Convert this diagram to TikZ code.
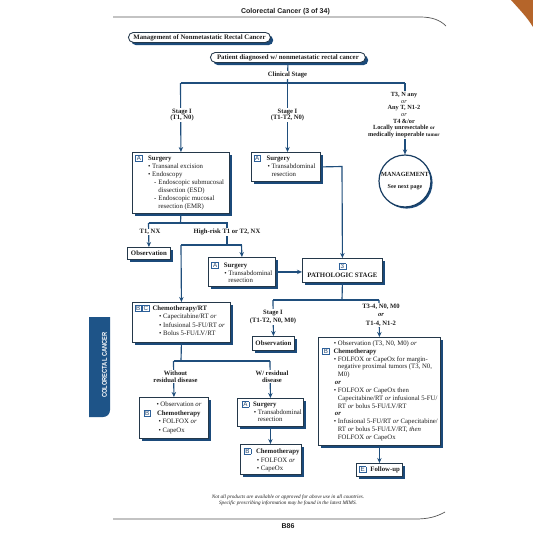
\documentclass[tikz,border=0pt]{standalone}
\usepackage{fontspec}
\setmainfont{Liberation Serif}
\newfontfamily\hsans{Liberation Sans}
\newfontfamily\tabsans[FakeStretch=0.82]{Liberation Sans}
\usetikzlibrary{arrows.meta,shadows}
\definecolor{bord}{HTML}{24384A}
\definecolor{shb}{HTML}{1B4A7A}
\definecolor{lnb}{HTML}{1F4E7C}
\definecolor{icb}{HTML}{2D6099}
\definecolor{txt}{HTML}{1E1E1E}
\definecolor{tabb}{HTML}{1E5488}
\definecolor{curl}{HTML}{555555}
\definecolor{brn}{HTML}{B5652A}
\newcommand\bodyf{\fontsize{6.8}{8}\selectfont}
\newcommand\labf{\fontsize{6.6}{6.9}\selectfont\bfseries}
\newcommand\ic[1]{{\setlength\fboxsep{0.5pt}\setlength\fboxrule{0.65pt}\fcolorbox{icb}{white}{\makebox[5.2pt]{\hsans\fontsize{6.2}{6.5}\selectfont\textcolor{icb!70!black}{#1}}}}}
\newcommand\bu{\makebox[4pt][l]{\textbullet}}
\newcommand\da{\makebox[4.2pt][l]{-}}
\begin{document}
\begin{tikzpicture}[x=1pt,y=-1pt,
  every node/.style={text=txt},
  bx/.style={draw=bord, line width=0.85pt, fill=white, inner sep=0pt, anchor=north west,
    general shadow={fill=shb, shadow xshift=2.8pt, shadow yshift=-2.8pt}},
  rbx/.style={bx, rounded corners=5pt},
  txtn/.style={inner sep=0pt, anchor=north west, align=left, font=\bodyf},
  lab/.style={fill=white, inner sep=0.8pt, align=center, font=\labf},
  ln/.style={draw=lnb, line width=1.15pt},
  arr/.style={ln, -{Stealth[length=5pt,width=4.4pt]}}]
\useasboundingbox (0,0) rectangle (533,533);
\fill[white] (0,0) rectangle (533,533);
% page decorations
\fill[brn] (511,0) .. controls (519,9) and (527,17) .. (533,27) -- (533,0) -- cycle;
\draw[curl, line width=0.7pt] (113,17) -- (420,17) .. controls (432,17) and (440,20) .. (446,26);
\draw[curl, line width=0.7pt] (113,519) -- (415,519) .. controls (428,519) and (436,517) .. (445,512);
\node[font=\hsans\bfseries\fontsize{7}{8}\selectfont] (title) at (285.5,12) {Colorectal Cancer (3 of 34)};
\node[font=\hsans\bfseries\fontsize{7}{8}\selectfont] (pg) at (288,526) {B86};
\node[font=\itshape\fontsize{5.2}{6.4}\selectfont, align=center] (foot) at (288,500) {Not all products are available or approved for above use in all countries.\\Specific prescribing information may be found in the latest MIMS.};
% side tab
\fill[tabb] (89,317) -- (110,317) -- (110,410) .. controls (110,414) and (107,417) .. (103,417) -- (89,417) -- cycle;
\node[rotate=90, text=white, font=\tabsans\bfseries\fontsize{7}{7}\selectfont] (tabt) at (104.5,365) {COLORECTAL CANCER};

% top boxes
\node[rbx, minimum width=142, minimum height=10, font=\bodyf\bfseries] (mgmt) at (128,32) {Management of Nonmetastatic Rectal Cancer};
\node[rbx, minimum width=155, minimum height=10, font=\bodyf\bfseries] (pat) at (210,52) {Patient diagnosed w/ nonmetastatic rectal cancer};

% boxes
\node[bx, minimum width=97, minimum height=61] (s1) at (132,152) {};
\node[bx, minimum width=69, minimum height=29] (s2) at (251,152) {};
\node[circle, draw=lnb!80!black, line width=1.2pt, fill=white, minimum size=52pt, inner sep=0pt,
  general shadow={fill=shb, shadow xshift=1.6pt, shadow yshift=-1.6pt}, align=center] (circ) at (405,181)
  {\fontsize{6.3}{7.8}\selectfont\bfseries MANAGEMENT\\\fontsize{6}{7.8}\selectfont\bfseries See next page};
\node[bx, minimum width=43, minimum height=12, font=\bodyf\bfseries] (obs1) at (127,247) {Observation};
\node[bx, minimum width=67, minimum height=29] (s3) at (208,257) {};
\node[bx, minimum width=80, minimum height=24, align=center, font=\bodyf] (path) at (302,258) {\ic{3}\\[0.5pt]\textbf{PATHOLOGIC STAGE}};
\node[bx, minimum width=98, minimum height=40] (c1) at (132,302) {};
\node[bx, minimum width=42, minimum height=14, font=\bodyf\bfseries] (obs2) at (252,336) {Observation};
\node[bx, minimum width=122, minimum height=108] (big) at (318,337) {};
\node[bx, minimum width=69, minimum height=41] (bl) at (139,397) {};
\node[bx, minimum width=66, minimum height=28] (s4) at (237,398) {};
\node[bx, minimum width=61, minimum height=30] (c2) at (240,444) {};
\node[bx, minimum width=46, minimum height=13, font=\bodyf] (fu) at (356,463) {\ic{E}\hspace{4pt}\textbf{Follow-up}};

% box contents
\node[txtn] (s1t) at (135,155) {\ic{A}\hspace{5.5pt}\textbf{Surgery}\\
\hspace*{13pt}\bu Transanal excision\\
\hspace*{13pt}\bu Endoscopy\\
\hspace*{19pt}\da Endoscopic submucosal\\
\hspace*{23.2pt}dissection (ESD)\\
\hspace*{19pt}\da Endoscopic mucosal\\
\hspace*{23.2pt}resection (EMR)};
\node[txtn] (s2t) at (253.3,155) {\ic{A}\hspace{5.5pt}\textbf{Surgery}\\
\hspace*{14pt}\bu Transabdominal\\
\hspace*{18pt}resection};
\node[txtn, font=\fontsize{6.8}{7.6}\selectfont] (s3t) at (211.2,262) {\ic{A}\hspace{5pt}\textbf{Surgery}\\
\hspace*{13pt}\bu Transabdominal\\
\hspace*{17pt}resection};
\node[txtn, font=\fontsize{6.8}{8.3}\selectfont] (c1t) at (134.3,305) {\ic{B}\ic{C}\hspace{3pt}\textbf{Chemotherapy/RT}\\
\hspace*{24.6pt}\bu Capecitabine/RT \textit{or}\\
\hspace*{24.6pt}\bu Infusional 5-FU/RT \textit{or}\\
\hspace*{24.6pt}\bu Bolus 5-FU/LV/RT};
\node[txtn, font=\fontsize{6.8}{8.6}\selectfont] (blt) at (143.3,401.6) {\hspace*{13pt}\bu Observation \textit{or}\\
\ic{B}\hspace{6pt}\textbf{Chemotherapy}\\
\hspace*{15pt}\bu FOLFOX \textit{or}\\
\hspace*{15pt}\bu CapeOx};
\node[txtn, font=\fontsize{6.8}{7.6}\selectfont] (s4t) at (241.5,401) {\ic{A}\hspace{4pt}\textbf{Surgery}\\
\hspace*{12.2pt}\bu Transabdominal\\
\hspace*{16.2pt}resection};
\node[txtn, font=\fontsize{6.8}{8.5}\selectfont] (c2t) at (243.5,448) {\ic{B}\hspace{4.8pt}\textbf{Chemotherapy}\\
\hspace*{13.2pt}\bu FOLFOX \textit{or}\\
\hspace*{13.2pt}\bu CapeOx};
\node[txtn, font=\fontsize{6.75}{7.83}\selectfont] (bigt) at (322,340.6) {\hspace*{11.7pt}\bu Observation (T3, N0, M0) \textit{or}\\
\ic{B}\hspace{3.8pt}\textbf{Chemotherapy}\\
\hspace*{11.7pt}\bu FOLFOX or CapeOx for margin-\\
\hspace*{15.7pt}negative proximal tumors (T3, N0,\\
\hspace*{15.7pt}M0)\\
\hspace*{12.7pt}\textbf{\textit{or}}\\
\hspace*{11.7pt}\bu FOLFOX \textit{or} CapeOx then\\
\hspace*{15.7pt}Capecitabine/RT \textit{or} infusional 5-FU/\\
\hspace*{15.7pt}RT \textit{or} bolus 5-FU/LV/RT\\
\hspace*{12.7pt}\textbf{\textit{or}}\\
\hspace*{11.7pt}\bu Infusional 5-FU/RT \textit{or} Capecitabine/\\
\hspace*{15.7pt}RT \textit{or} bolus 5-FU/LV/RT, \textit{then}\\
\hspace*{15.7pt}FOLFOX \textit{or} CapeOx};

% connectors
\coordinate (j0) at (287.5,83);
\coordinate (jl) at (180.5,83);
\coordinate (jr) at (405,83);
\draw[ln] (pat.south) -- (j0);
\draw[ln] (jl) -- (jr);
\draw[arr] (jl) -- (s1.north);
\draw[arr] (j0) -- (j0 |- s2.north);
\draw[arr] (jr) -- (circ.north);

\coordinate (j1) at (180.5,223);
\coordinate (ja) at (148.5,223);
\coordinate (jb) at (227,223);
\coordinate (jc) at (227,245);
\coordinate (jd) at (181,245);
\coordinate (je) at (241.5,245);
\draw[ln] (s1.south) -- (j1);
\draw[ln] (ja) -- (jb) -- (jc);
\draw[arr] (ja) -- (obs1.north);
\draw[ln] (jd) -- (je);
\draw[arr] (jd) -- (c1.north);
\draw[arr] (je) -- (s3.north);

\coordinate (jf) at (342,166.5);
\draw[arr] (s2.east) -- (jf) -- (path.north);
\draw[arr] (s3.east) -- (s3.east -| path.west);

\coordinate (jg) at (342,300);
\coordinate (jh) at (273,300);
\coordinate (ji) at (379,300);
\draw[ln] (path.south) -- (jg);
\draw[ln] (jh) -- (ji);
\draw[arr] (jh) -- (obs2.north);
\draw[arr] (ji) -- (big.north);

\coordinate (jk) at (181,361);
\coordinate (jm1) at (173.5,361);
\coordinate (jm2) at (270,361);
\draw[ln] (c1.south) -- (jk);
\draw[ln] (jm1) -- (jm2);
\draw[arr] (jm1) -- (bl.north);
\draw[arr] (jm2) -- (s4.north);
\draw[arr] (s4.south) -- (s4.south |- c2.north);
\draw[arr] (big.south) -- (big.south |- fu.north);

% labels
\node[lab] (lcs) at (287.5,75) {Clinical Stage};
\node[lab] (l1) at (182,115) {Stage I\\(T1, N0)};
\node[lab] (l2) at (287.5,115) {Stage I\\(T1-T2, N0)};
\node[lab, font=\fontsize{6.3}{6.7}\selectfont\bfseries] (l3) at (404,115) {T3, N any\\\textit{\mdseries or}\\Any T, N1-2\\\textit{\mdseries or}\\T4 \&/or\\Locally unresectable {\fontsize{5.2}{6}\selectfont or}\\medically inoperable {\fontsize{5.2}{6}\selectfont tumor}};
\node[lab] (l4) at (150,232) {T1, NX};
\node[lab] (l5) at (227,232) {High-risk T1 or T2, NX};
\node[lab, font=\fontsize{6.6}{7.8}\selectfont\bfseries] (l6) at (273,317) {Stage I\\(T1-T2, N0, M0)};
\node[lab, font=\fontsize{6.6}{8.5}\selectfont\bfseries] (l7) at (381,315) {T3-4, N0, M0\\\textit{or}\\T1-4, N1-2};
\node[lab] (l8) at (175.5,376.5) {Without\\residual disease};
\node[lab] (l9) at (272,376.5) {W/ residual\\disease};
\end{tikzpicture}
\end{document}
